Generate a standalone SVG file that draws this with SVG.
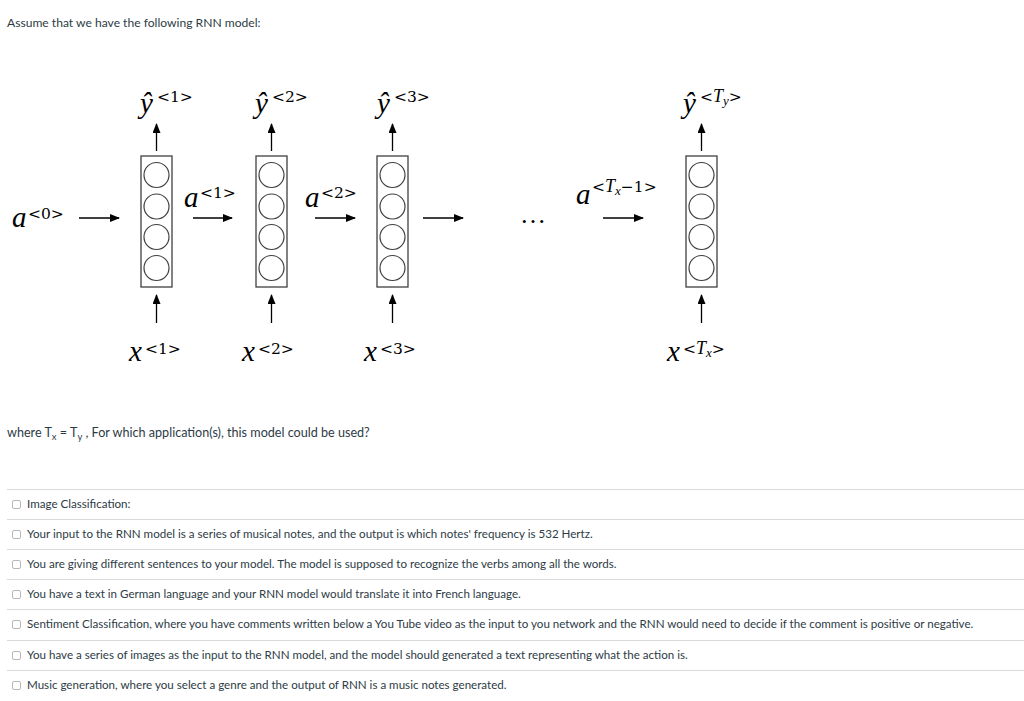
<svg xmlns="http://www.w3.org/2000/svg" width="1024" height="701" viewBox="0 0 1024 701">
<style>
.t{font-family:Lato,"Open Sans",sans-serif;fill:#2d3b45}
.q{font-size:12.1px}
.w{font-size:12.6px}
.o{font-size:11.6px}
.m{font-family:"Liberation Serif","DejaVu Serif",serif;font-style:italic;fill:#000}
.mb{font-size:29px}
.ms{font-family:"DejaVu Serif",serif;font-size:15.5px;font-style:normal}
.mi{font-family:"Liberation Serif",serif;font-style:italic;font-size:18px}
.mu{font-family:"Liberation Serif",serif;font-style:italic;font-size:13px}
.box{fill:#fff;stroke:#404040;stroke-width:1.3}
.cir{fill:#fff;stroke:#404040;stroke-width:1.2}
.ln{stroke:#000;stroke-width:1.3;fill:none}
.sep{stroke:#d9d9d9;stroke-width:1}
.cb{fill:#fff;stroke:#b8b8b8;stroke-width:1}
</style>
<defs>
<marker id="ah" markerWidth="10" markerHeight="8" refX="9" refY="4" orient="auto" markerUnits="userSpaceOnUse">
<path d="M0,0 L10,4 L0,8 z" fill="#000"/>
</marker>
<g id="cell">
<rect class="box" x="0" y="0" width="31" height="131"/>
<circle class="cir" cx="15.5" cy="19" r="12.5"/>
<circle class="cir" cx="15.5" cy="50.5" r="12.5"/>
<circle class="cir" cx="15.5" cy="81" r="12.5"/>
<circle class="cir" cx="15.5" cy="112" r="12.5"/>
</g>
</defs>
<rect width="1024" height="701" fill="#fff"/>
<text class="t q" x="7" y="27">Assume that we have the following RNN model:</text>

<g id="node1"><use href="#cell" x="141" y="156"/></g>
<g id="node2"><use href="#cell" x="256" y="156"/></g>
<g id="node3"><use href="#cell" x="377" y="156"/></g>
<g id="node4"><use href="#cell" x="686" y="156"/></g>

<g id="connectors">
<line class="ln" x1="156.5" y1="151" x2="156.5" y2="124" marker-end="url(#ah)"/>
<line class="ln" x1="271.5" y1="151" x2="271.5" y2="124" marker-end="url(#ah)"/>
<line class="ln" x1="392.5" y1="151" x2="392.5" y2="124" marker-end="url(#ah)"/>
<line class="ln" x1="701.5" y1="151" x2="701.5" y2="124" marker-end="url(#ah)"/>
<line class="ln" x1="156.5" y1="323" x2="156.5" y2="295" marker-end="url(#ah)"/>
<line class="ln" x1="271.5" y1="323" x2="271.5" y2="295" marker-end="url(#ah)"/>
<line class="ln" x1="392.5" y1="323" x2="392.5" y2="295" marker-end="url(#ah)"/>
<line class="ln" x1="701.5" y1="323" x2="701.5" y2="295" marker-end="url(#ah)"/>
<line class="ln" x1="79" y1="218" x2="119" y2="218" marker-end="url(#ah)"/>
<line class="ln" x1="193" y1="218" x2="232" y2="218" marker-end="url(#ah)"/>
<line class="ln" x1="315" y1="218" x2="355" y2="218" marker-end="url(#ah)"/>
<line class="ln" x1="423" y1="218" x2="463" y2="218" marker-end="url(#ah)"/>
<line class="ln" x1="603" y1="218" x2="643" y2="218" marker-end="url(#ah)"/>
</g>

<g id="labels">
<text class="m mb" x="140" y="113">ŷ</text><text class="ms" x="157" y="102">&lt;1&gt;</text>
<text class="m mb" x="255" y="113">ŷ</text><text class="ms" x="272" y="102">&lt;2&gt;</text>
<text class="m mb" x="377" y="113">ŷ</text><text class="ms" x="394" y="102">&lt;3&gt;</text>
<text class="m mb" x="683" y="113">ŷ</text><text class="ms" x="700" y="102">&lt;<tspan class="mi">T</tspan><tspan class="mu" dy="3">y</tspan><tspan dy="-3">&gt;</tspan></text>
<text class="m mb" x="12" y="227">a</text><text class="ms" x="28" y="219">&lt;0&gt;</text>
<text class="m mb" x="184" y="207">a</text><text class="ms" x="200" y="198">&lt;1&gt;</text>
<text class="m mb" x="305" y="207">a</text><text class="ms" x="321" y="198">&lt;2&gt;</text>
<text class="m mb" x="576" y="204">a</text><text class="ms" x="592" y="192">&lt;<tspan class="mi">T</tspan><tspan class="mu" dy="3">x</tspan><tspan dy="-3">−1&gt;</tspan></text>
<text x="520" y="223" style="font-family:'Liberation Serif',serif;font-size:26px">…</text>
<text class="m mb" x="129" y="361">x</text><text class="ms" x="145" y="354">&lt;1&gt;</text>
<text class="m mb" x="242" y="361">x</text><text class="ms" x="258" y="354">&lt;2&gt;</text>
<text class="m mb" x="364" y="361">x</text><text class="ms" x="380" y="354">&lt;3&gt;</text>
<text class="m mb" x="667" y="361">x</text><text class="ms" x="683" y="354">&lt;<tspan class="mi">T</tspan><tspan class="mu" dy="3">x</tspan><tspan dy="-3">&gt;</tspan></text>
</g>

<text class="t w" x="7" y="437">where T<tspan font-size="9.5" dy="3">x</tspan><tspan dy="-3"> = T</tspan><tspan font-size="9.5" dy="3">y</tspan><tspan dy="-3"> , For which application(s), this model could be used?</tspan></text>

<g id="options">
<line class="sep" x1="7" y1="489.5" x2="1024" y2="489.5"/>
<line class="sep" x1="7" y1="519.5" x2="1024" y2="519.5"/>
<line class="sep" x1="7" y1="549.5" x2="1024" y2="549.5"/>
<line class="sep" x1="7" y1="579.5" x2="1024" y2="579.5"/>
<line class="sep" x1="7" y1="609.5" x2="1024" y2="609.5"/>
<line class="sep" x1="7" y1="640.5" x2="1024" y2="640.5"/>
<line class="sep" x1="7" y1="670.5" x2="1024" y2="670.5"/>
<rect class="cb" x="12.5" y="500.5" width="8" height="8" rx="1.5"/>
<rect class="cb" x="12.5" y="530.5" width="8" height="8" rx="1.5"/>
<rect class="cb" x="12.5" y="560.5" width="8" height="8" rx="1.5"/>
<rect class="cb" x="12.5" y="590.5" width="8" height="8" rx="1.5"/>
<rect class="cb" x="12.5" y="620.5" width="8" height="8" rx="1.5"/>
<rect class="cb" x="12.5" y="651.5" width="8" height="8" rx="1.5"/>
<rect class="cb" x="12.5" y="681.5" width="8" height="8" rx="1.5"/>
<text class="t o" x="27" y="508">Image Classification:</text>
<text class="t o" x="27" y="538">Your input to the RNN model is a series of musical notes, and the output is which notes' frequency is 532 Hertz.</text>
<text class="t o" x="27" y="568">You are giving different sentences to your model. The model is supposed to recognize the verbs among all the words.</text>
<text class="t o" x="27" y="598">You have a text in German language and your RNN model would translate it into French language.</text>
<text class="t o" x="27" y="628">Sentiment Classification, where you have comments written below a You Tube video as the input to you network and the RNN would need to decide if the comment is positive or negative.</text>
<text class="t o" x="27" y="659">You have a series of images as the input to the RNN model, and the model should generated a text representing what the action is.</text>
<text class="t o" x="27" y="689">Music generation, where you select a genre and the output of RNN is a music notes generated.</text>
</g>
</svg>
